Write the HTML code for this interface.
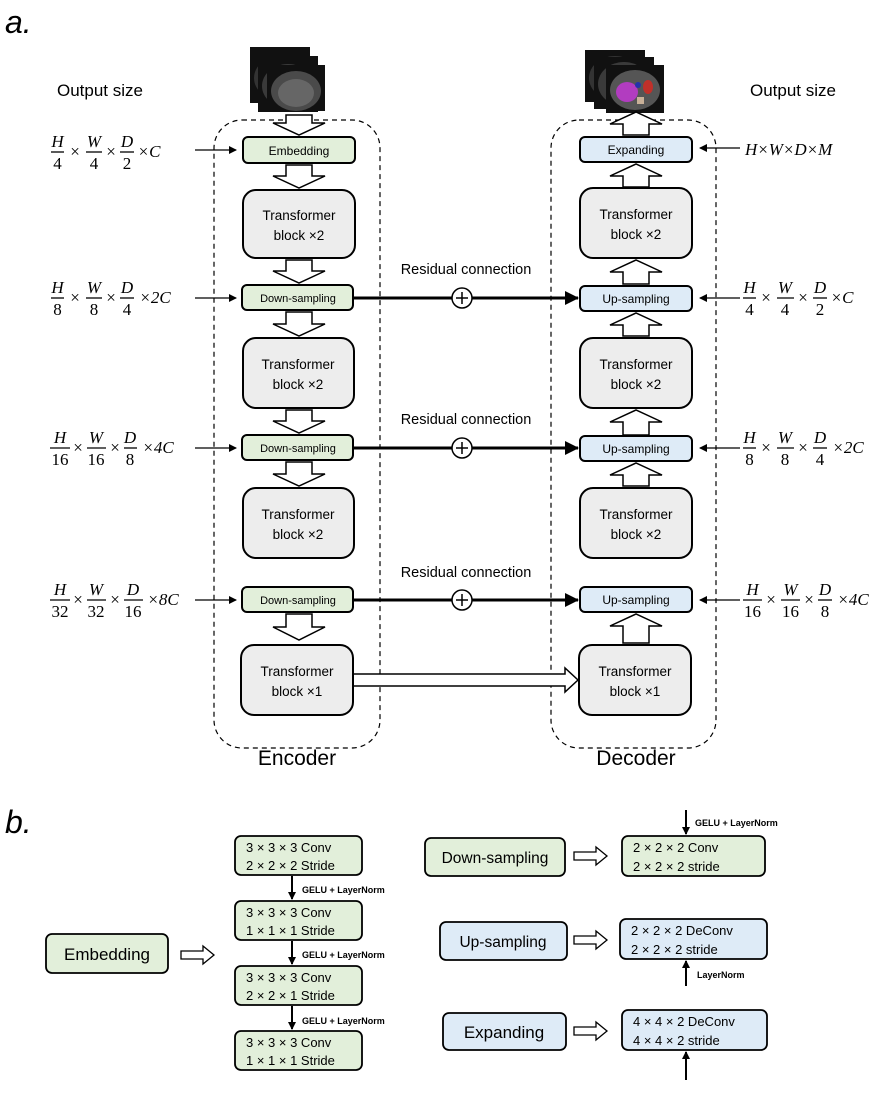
<!DOCTYPE html>
<html><head><meta charset="utf-8">
<style>
html,body{margin:0;padding:0;background:#fff;}
svg{display:block;}
.t{font-family:"Liberation Sans",sans-serif;fill:#000;}
.m{font-family:"Liberation Serif",serif;font-style:italic;font-size:17px;fill:#000;}
.n{font-family:"Liberation Serif",serif;font-size:17px;fill:#000;}
</style></head><body>
<svg width="886" height="1094" viewBox="0 0 886 1094" xmlns="http://www.w3.org/2000/svg">
<defs>
<marker id="ah" markerWidth="8" markerHeight="8" refX="7" refY="4" orient="auto" markerUnits="userSpaceOnUse"><path d="M0,0 L8,4 L0,8 Z" fill="#000"/></marker>
<marker id="ah2" markerWidth="14" markerHeight="14" refX="13" refY="7" orient="auto" markerUnits="userSpaceOnUse"><path d="M0,0 L14,7 L0,14 Z" fill="#000"/></marker>
</defs>
<text x="5" y="33" class="t" font-size="32" font-style="italic">a.</text>
<text x="5" y="833" class="t" font-size="32" font-style="italic">b.</text>
<text x="57" y="96" class="t" font-size="17">Output size</text>
<text x="750" y="96" class="t" font-size="17">Output size</text>

<!-- images -->
<g>
<rect x="250" y="47" width="60" height="56" fill="#111"/><ellipse cx="280" cy="78" rx="26" ry="22" fill="#333"/>
<rect x="258" y="56" width="60" height="56" fill="#111"/><ellipse cx="288" cy="86" rx="26" ry="22" fill="#3a3a3a"/>
<rect x="267" y="65" width="58" height="46" fill="#111"/><ellipse cx="296" cy="91" rx="25" ry="20" fill="#4a4a4a"/><ellipse cx="296" cy="93" rx="18" ry="14" fill="#666"/>
<rect x="585" y="50" width="60" height="52" fill="#111"/><ellipse cx="615" cy="78" rx="26" ry="22" fill="#333"/>
<rect x="594" y="57" width="60" height="52" fill="#111"/><ellipse cx="624" cy="84" rx="26" ry="22" fill="#3a3a3a"/>
<rect x="606" y="65" width="58" height="48" fill="#111"/><ellipse cx="635" cy="90" rx="25" ry="20" fill="#555"/>
<ellipse cx="627" cy="92" rx="11" ry="10" fill="#b23cc0"/><ellipse cx="648" cy="87" rx="5" ry="7" fill="#c0302a"/><rect x="637" y="97" width="7" height="7" fill="#c8b098"/><circle cx="638" cy="85" r="3" fill="#2233aa"/>
</g>

<!-- dashed containers -->
<rect x="214" y="120" width="166" height="628" rx="28" fill="none" stroke="#000" stroke-width="1.2" stroke-dasharray="5,4"/>
<rect x="551" y="120" width="165" height="628" rx="28" fill="none" stroke="#000" stroke-width="1.2" stroke-dasharray="5,4"/>

<!-- hollow arrows encoder (down) -->
<g fill="#fff" stroke="#000" stroke-width="1.5">
<path d="M286,115 L312,115 L312,123 L325,123 L299,135 L273,123 L286,123 Z"/>
<path d="M286,165 L312,165 L312,176 L325,176 L299,188 L273,176 L286,176 Z"/>
<path d="M286,260 L312,260 L312,271 L325,271 L299,283 L273,271 L286,271 Z"/>
<path d="M286,312 L312,312 L312,324 L325,324 L299,336 L273,324 L286,324 Z"/>
<path d="M286,410 L312,410 L312,421 L325,421 L299,433 L273,421 L286,421 Z"/>
<path d="M286,462 L312,462 L312,474 L325,474 L299,486 L273,474 L286,474 Z"/>
<path d="M286,614 L312,614 L312,627 L325,627 L299,640 L273,627 L286,627 Z"/>
<!-- decoder (up) -->
<path d="M623,135 L649,135 L649,124 L662,124 L636,112 L610,124 L623,124 Z"/>
<path d="M623,187 L649,187 L649,176 L662,176 L636,164 L610,176 L623,176 Z"/>
<path d="M623,284 L649,284 L649,272 L662,272 L636,260 L610,272 L623,272 Z"/>
<path d="M623,336 L649,336 L649,325 L662,325 L636,313 L610,325 L623,325 Z"/>
<path d="M623,435 L649,435 L649,422 L662,422 L636,410 L610,422 L623,422 Z"/>
<path d="M623,486 L649,486 L649,475 L662,475 L636,463 L610,475 L623,475 Z"/>
<path d="M623,643 L649,643 L649,626 L662,626 L636,614 L610,626 L623,626 Z"/>
<!-- big horizontal -->
<path d="M353,674 L565,674 L565,668 L578,680 L565,692 L565,686 L353,686 Z"/>
</g>

<!-- encoder blocks -->
<g stroke="#000" stroke-width="2">
<rect x="243" y="137" width="112" height="26" rx="5" fill="#e2efda"/>
<rect x="243" y="190" width="112" height="68" rx="13" fill="#ededed"/>
<rect x="242" y="285" width="111" height="25" rx="5" fill="#e2efda"/>
<rect x="243" y="338" width="111" height="70" rx="13" fill="#ededed"/>
<rect x="242" y="435" width="111" height="25" rx="5" fill="#e2efda"/>
<rect x="243" y="488" width="111" height="70" rx="13" fill="#ededed"/>
<rect x="242" y="587" width="111" height="25" rx="5" fill="#e2efda"/>
<rect x="241" y="645" width="112" height="70" rx="13" fill="#ededed"/>
<!-- decoder -->
<rect x="580" y="137" width="112" height="25" rx="5" fill="#deebf7"/>
<rect x="580" y="188" width="112" height="70" rx="13" fill="#ededed"/>
<rect x="580" y="286" width="112" height="25" rx="5" fill="#deebf7"/>
<rect x="580" y="338" width="112" height="70" rx="13" fill="#ededed"/>
<rect x="580" y="436" width="112" height="25" rx="5" fill="#deebf7"/>
<rect x="580" y="488" width="112" height="70" rx="13" fill="#ededed"/>
<rect x="580" y="587" width="112" height="25" rx="5" fill="#deebf7"/>
<rect x="579" y="645" width="112" height="70" rx="13" fill="#ededed"/>
</g>
<g class="t" text-anchor="middle">
<text x="299" y="155" font-size="12">Embedding</text>
<text x="299" y="220" font-size="13.5">Transformer</text><text x="299" y="240" font-size="13.5">block ×2</text>
<text x="298" y="302" font-size="11">Down-sampling</text>
<text x="298" y="369" font-size="13.5">Transformer</text><text x="298" y="389" font-size="13.5">block ×2</text>
<text x="298" y="452" font-size="11">Down-sampling</text>
<text x="298" y="519" font-size="13.5">Transformer</text><text x="298" y="539" font-size="13.5">block ×2</text>
<text x="298" y="604" font-size="11">Down-sampling</text>
<text x="297" y="676" font-size="13.5">Transformer</text><text x="297" y="696" font-size="13.5">block ×1</text>
<text x="636" y="154" font-size="12">Expanding</text>
<text x="636" y="219" font-size="13.5">Transformer</text><text x="636" y="239" font-size="13.5">block ×2</text>
<text x="636" y="303" font-size="12">Up-sampling</text>
<text x="636" y="369" font-size="13.5">Transformer</text><text x="636" y="389" font-size="13.5">block ×2</text>
<text x="636" y="453" font-size="12">Up-sampling</text>
<text x="636" y="519" font-size="13.5">Transformer</text><text x="636" y="539" font-size="13.5">block ×2</text>
<text x="636" y="604" font-size="12">Up-sampling</text>
<text x="635" y="676" font-size="13.5">Transformer</text><text x="635" y="696" font-size="13.5">block ×1</text>
<text x="297" y="765" font-size="21">Encoder</text>
<text x="636" y="765" font-size="21">Decoder</text>
<text x="466" y="274" font-size="14.5">Residual connection</text>
<text x="466" y="424" font-size="14.5">Residual connection</text>
<text x="466" y="577" font-size="14.5">Residual connection</text>
</g>

<!-- residual lines -->
<g stroke="#000" stroke-width="3" fill="none">
<line x1="353" y1="298" x2="578" y2="298" marker-end="url(#ah2)"/>
<line x1="353" y1="448" x2="578" y2="448" marker-end="url(#ah2)"/>
<line x1="353" y1="600" x2="578" y2="600" marker-end="url(#ah2)"/>
</g>
<g stroke="#000" stroke-width="1.5" fill="#fff">
<circle cx="462" cy="298" r="10"/><circle cx="462" cy="448" r="10"/><circle cx="462" cy="600" r="10"/>
</g>
<g stroke="#000" stroke-width="1.5">
<line x1="456" y1="298" x2="468" y2="298"/><line x1="462" y1="292" x2="462" y2="304"/>
<line x1="456" y1="448" x2="468" y2="448"/><line x1="462" y1="442" x2="462" y2="454"/>
<line x1="456" y1="600" x2="468" y2="600"/><line x1="462" y1="594" x2="462" y2="606"/>
</g>

<!-- size arrows -->
<g stroke="#000" stroke-width="1.3">
<line x1="195" y1="150" x2="236" y2="150" marker-end="url(#ah)"/>
<line x1="195" y1="298" x2="236" y2="298" marker-end="url(#ah)"/>
<line x1="195" y1="448" x2="236" y2="448" marker-end="url(#ah)"/>
<line x1="195" y1="600" x2="236" y2="600" marker-end="url(#ah)"/>
<line x1="740" y1="148" x2="700" y2="148" marker-end="url(#ah)"/>
<line x1="740" y1="298" x2="700" y2="298" marker-end="url(#ah)"/>
<line x1="740" y1="448" x2="700" y2="448" marker-end="url(#ah)"/>
<line x1="740" y1="600" x2="700" y2="600" marker-end="url(#ah)"/>
</g>

<!-- formulas -->
<g stroke="#000" stroke-width="1.3">
<line x1="51" y1="152" x2="64" y2="152"/><line x1="86" y1="152" x2="102" y2="152"/><line x1="120" y1="152" x2="134" y2="152"/>
<line x1="51" y1="298" x2="64" y2="298"/><line x1="86" y1="298" x2="102" y2="298"/><line x1="120" y1="298" x2="134" y2="298"/>
<line x1="50" y1="448" x2="70" y2="448"/><line x1="87" y1="448" x2="106" y2="448"/><line x1="124" y1="448" x2="137" y2="448"/>
<line x1="50" y1="600" x2="70" y2="600"/><line x1="87" y1="600" x2="106" y2="600"/><line x1="124" y1="600" x2="143" y2="600"/>
<line x1="743" y1="298" x2="756" y2="298"/><line x1="777" y1="298" x2="794" y2="298"/><line x1="813" y1="298" x2="827" y2="298"/>
<line x1="743" y1="448" x2="756" y2="448"/><line x1="777" y1="448" x2="794" y2="448"/><line x1="813" y1="448" x2="827" y2="448"/>
<line x1="743" y1="600" x2="762" y2="600"/><line x1="781" y1="600" x2="800" y2="600"/><line x1="818" y1="600" x2="832" y2="600"/>
</g>
<g text-anchor="middle">
<text class="m" x="57.5" y="147">H</text><text class="n" x="57.5" y="169">4</text><text class="n" x="75" y="157">×</text>
<text class="m" x="94" y="147">W</text><text class="n" x="94" y="169">4</text><text class="n" x="111" y="157">×</text>
<text class="m" x="127" y="147">D</text><text class="n" x="127" y="169">2</text>
<text class="m" x="149" y="157">×C</text>

<text class="m" x="57.5" y="293">H</text><text class="n" x="57.5" y="315">8</text><text class="n" x="75" y="303">×</text>
<text class="m" x="94" y="293">W</text><text class="n" x="94" y="315">8</text><text class="n" x="111" y="303">×</text>
<text class="m" x="127" y="293">D</text><text class="n" x="127" y="315">4</text>
<text class="m" x="155" y="303">×2C</text>

<text class="m" x="60" y="443">H</text><text class="n" x="60" y="465">16</text><text class="n" x="78" y="453">×</text>
<text class="m" x="96" y="443">W</text><text class="n" x="96" y="465">16</text><text class="n" x="115" y="453">×</text>
<text class="m" x="130" y="443">D</text><text class="n" x="130" y="465">8</text>
<text class="m" x="158" y="453">×4C</text>

<text class="m" x="60" y="595">H</text><text class="n" x="60" y="617">32</text><text class="n" x="78" y="605">×</text>
<text class="m" x="96" y="595">W</text><text class="n" x="96" y="617">32</text><text class="n" x="115" y="605">×</text>
<text class="m" x="133" y="595">D</text><text class="n" x="133" y="617">16</text>
<text class="m" x="163" y="605">×8C</text>

<text class="m" x="749.5" y="293">H</text><text class="n" x="749.5" y="315">4</text><text class="n" x="766" y="303">×</text>
<text class="m" x="785" y="293">W</text><text class="n" x="785" y="315">4</text><text class="n" x="803" y="303">×</text>
<text class="m" x="820" y="293">D</text><text class="n" x="820" y="315">2</text>
<text class="m" x="842" y="303">×C</text>

<text class="m" x="749.5" y="443">H</text><text class="n" x="749.5" y="465">8</text><text class="n" x="766" y="453">×</text>
<text class="m" x="785" y="443">W</text><text class="n" x="785" y="465">8</text><text class="n" x="803" y="453">×</text>
<text class="m" x="820" y="443">D</text><text class="n" x="820" y="465">4</text>
<text class="m" x="848" y="453">×2C</text>

<text class="m" x="752.5" y="595">H</text><text class="n" x="752.5" y="617">16</text><text class="n" x="771" y="605">×</text>
<text class="m" x="790.5" y="595">W</text><text class="n" x="790.5" y="617">16</text><text class="n" x="809" y="605">×</text>
<text class="m" x="825" y="595">D</text><text class="n" x="825" y="617">8</text>
<text class="m" x="853" y="605">×4C</text>
</g>
<text class="m" x="745" y="155">H×W×D×M</text>

<!-- part b -->
<g stroke="#000" stroke-width="1.8">
<rect x="46" y="934" width="122" height="39" rx="6" fill="#e2efda"/>
<rect x="235" y="836" width="127" height="39" rx="6" fill="#e2efda"/>
<rect x="235" y="901" width="127" height="39" rx="6" fill="#e2efda"/>
<rect x="235" y="966" width="127" height="39" rx="6" fill="#e2efda"/>
<rect x="235" y="1031" width="127" height="39" rx="6" fill="#e2efda"/>
<rect x="425" y="838" width="140" height="38" rx="6" fill="#e2efda"/>
<rect x="622" y="836" width="143" height="40" rx="6" fill="#e2efda"/>
<rect x="440" y="922" width="127" height="38" rx="6" fill="#deebf7"/>
<rect x="620" y="919" width="147" height="40" rx="6" fill="#deebf7"/>
<rect x="443" y="1013" width="123" height="37" rx="6" fill="#deebf7"/>
<rect x="622" y="1010" width="145" height="40" rx="6" fill="#deebf7"/>
</g>
<g fill="#fff" stroke="#000" stroke-width="1.3">
<path d="M181,951 L203,951 L203,946 L214,955 L203,964 L203,959 L181,959 Z"/>
<path d="M574,852 L596,852 L596,847 L607,856 L596,865 L596,860 L574,860 Z"/>
<path d="M574,936 L596,936 L596,931 L607,940 L596,949 L596,944 L574,944 Z"/>
<path d="M574,1027 L596,1027 L596,1022 L607,1031 L596,1040 L596,1035 L574,1035 Z"/>
</g>
<g stroke="#000" stroke-width="2">
<line x1="292" y1="876" x2="292" y2="899" marker-end="url(#ah)"/>
<line x1="292" y1="941" x2="292" y2="964" marker-end="url(#ah)"/>
<line x1="292" y1="1006" x2="292" y2="1029" marker-end="url(#ah)"/>
<line x1="686" y1="810" x2="686" y2="834" marker-end="url(#ah)"/>
<line x1="686" y1="986" x2="686" y2="961" marker-end="url(#ah)"/>
<line x1="686" y1="1080" x2="686" y2="1052" marker-end="url(#ah)"/>
</g>
<g class="t">
<text x="107" y="960" font-size="17" text-anchor="middle">Embedding</text>
<text x="495" y="863" font-size="15.5" text-anchor="middle">Down-sampling</text>
<text x="503" y="947" font-size="15.5" text-anchor="middle">Up-sampling</text>
<text x="504" y="1038" font-size="17" text-anchor="middle">Expanding</text>
<g font-size="13">
<text x="246" y="852">3 × 3 × 3 Conv</text><text x="246" y="870">2 × 2 × 2 Stride</text>
<text x="246" y="917">3 × 3 × 3 Conv</text><text x="246" y="935">1 × 1 × 1 Stride</text>
<text x="246" y="982">3 × 3 × 3 Conv</text><text x="246" y="1000">2 × 2 × 1 Stride</text>
<text x="246" y="1047">3 × 3 × 3 Conv</text><text x="246" y="1065">1 × 1 × 1 Stride</text>
<text x="633" y="852">2 × 2 × 2 Conv</text><text x="633" y="871">2 × 2 × 2 stride</text>
<text x="631" y="935">2 × 2 × 2 DeConv</text><text x="631" y="954">2 × 2 × 2 stride</text>
<text x="633" y="1026">4 × 4 × 2 DeConv</text><text x="633" y="1045">4 × 4 × 2 stride</text>
</g>
<g font-size="9" font-weight="bold">
<text x="302" y="893">GELU + LayerNorm</text>
<text x="302" y="958">GELU + LayerNorm</text>
<text x="302" y="1024">GELU + LayerNorm</text>
<text x="695" y="826">GELU + LayerNorm</text>
<text x="697" y="978">LayerNorm</text>
</g>
</g>
</svg>
</body></html>
